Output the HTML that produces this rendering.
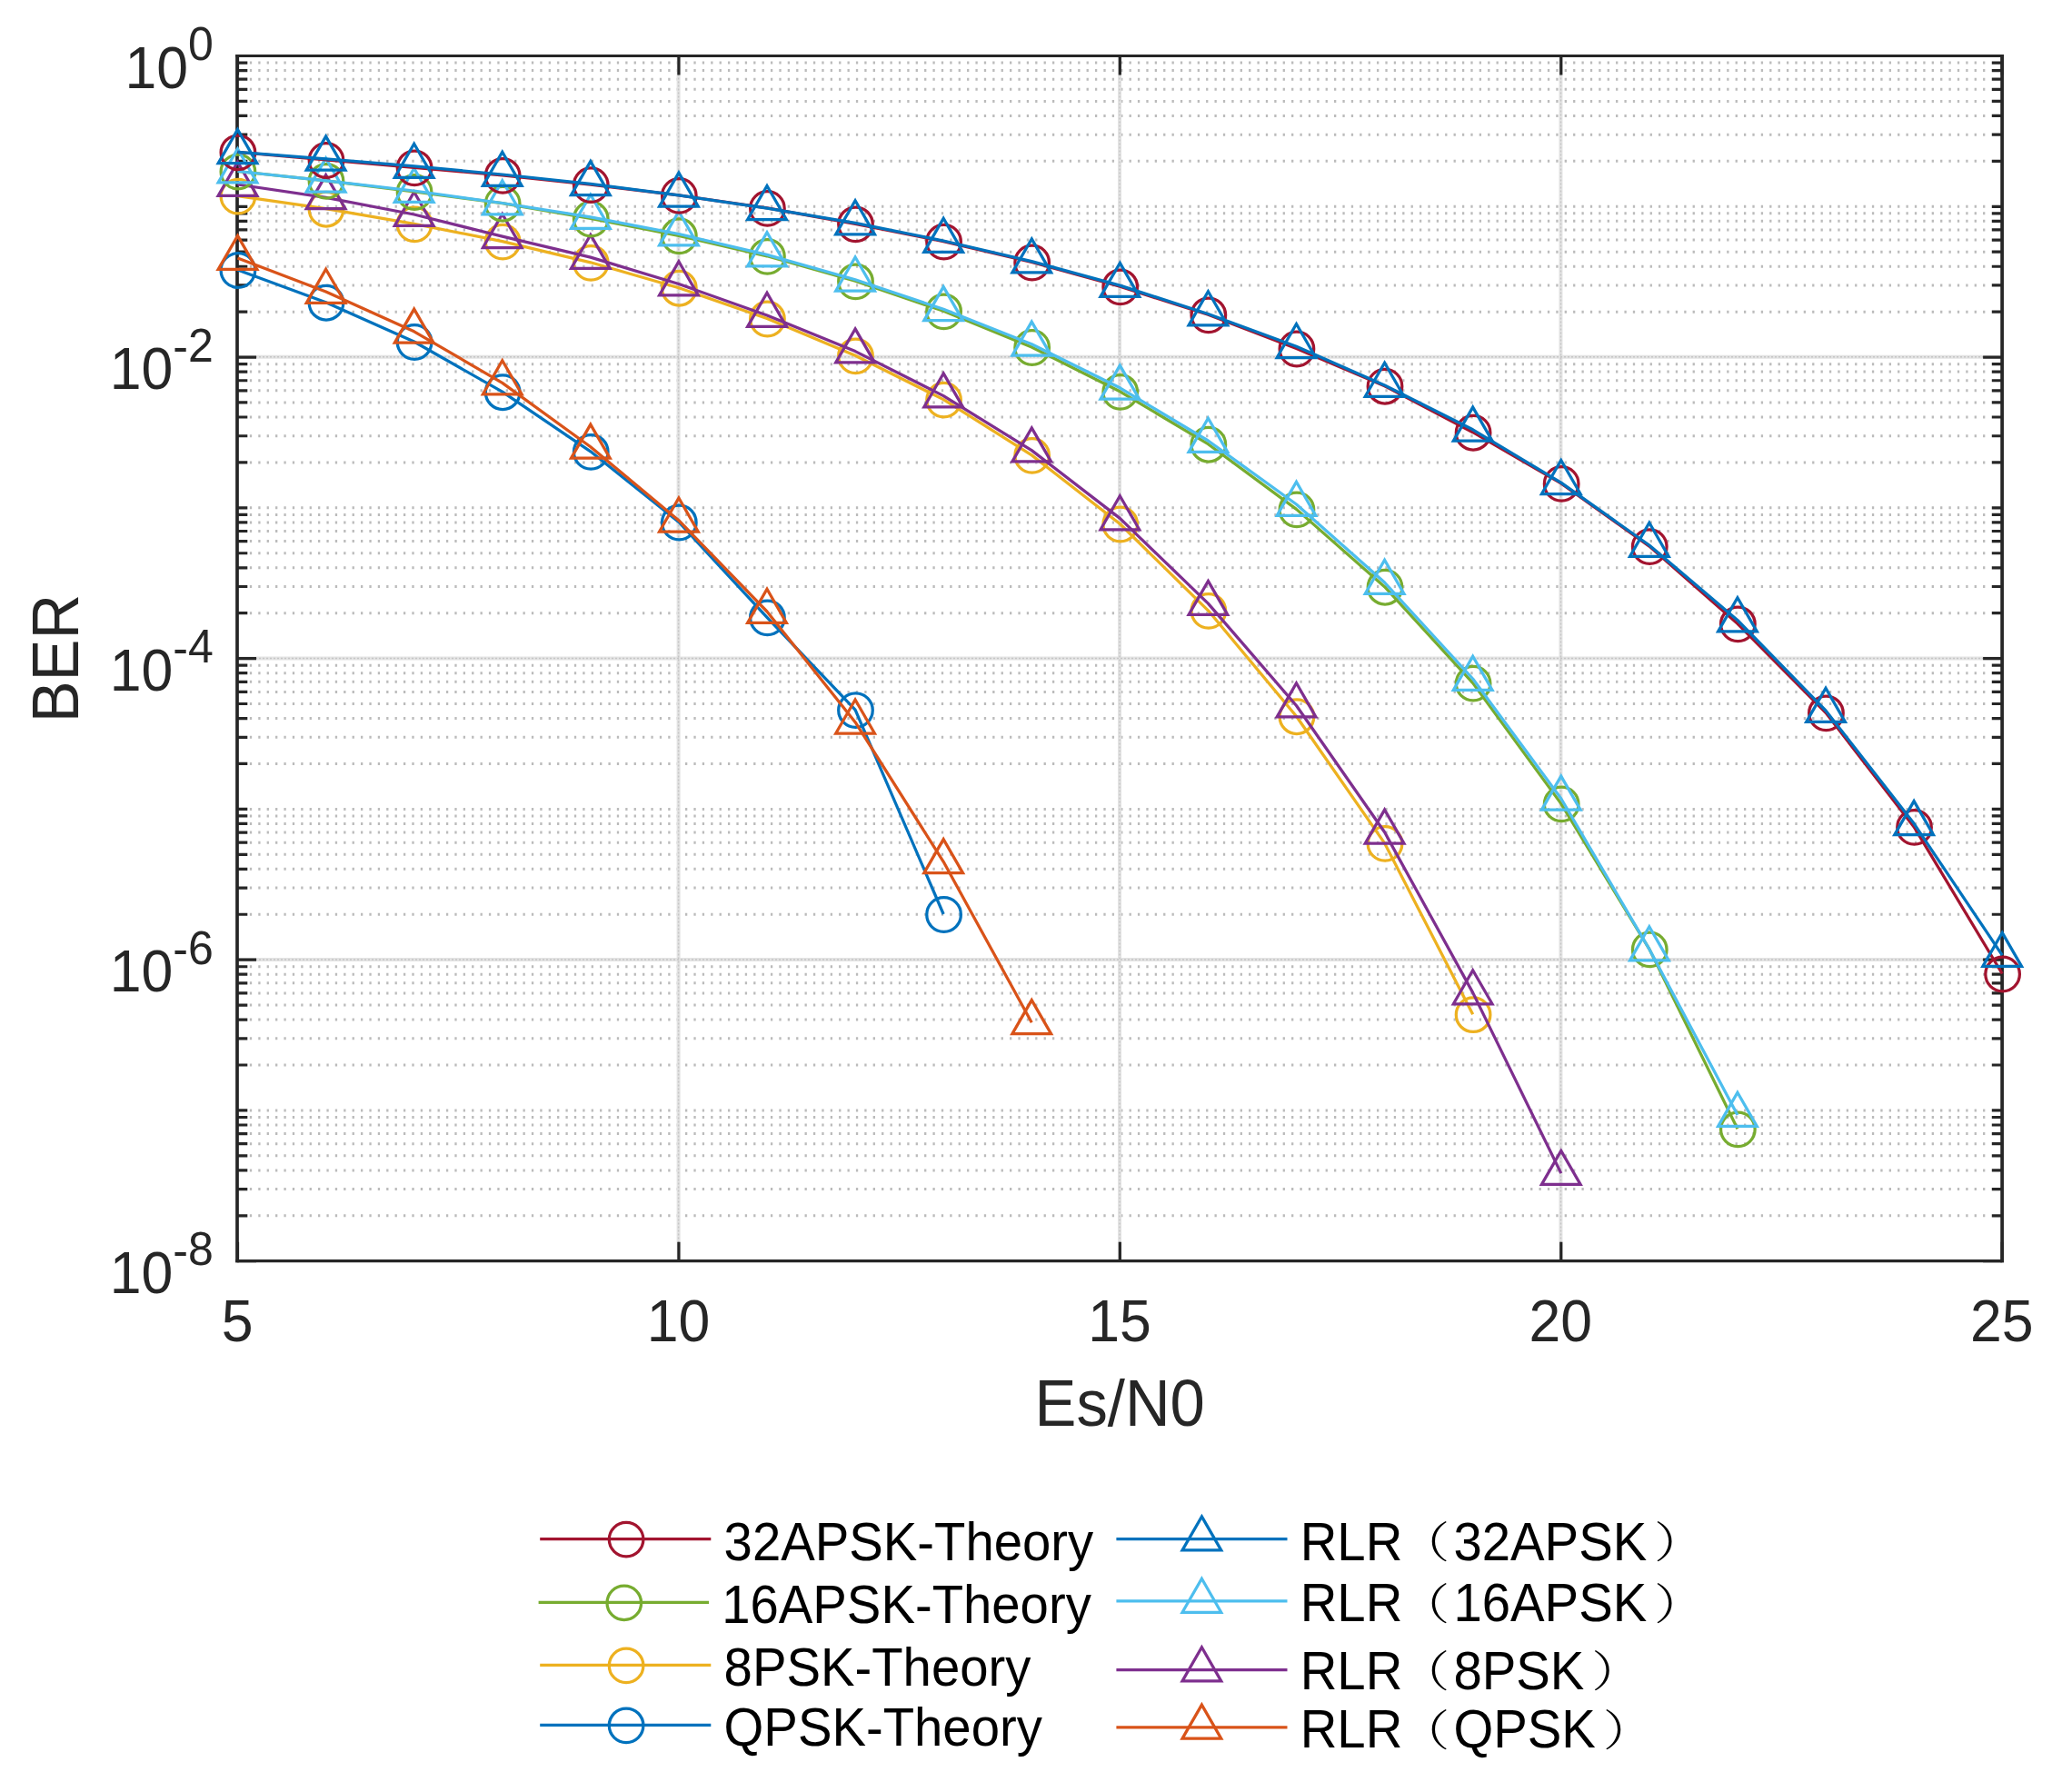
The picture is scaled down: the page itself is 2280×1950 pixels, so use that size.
<!DOCTYPE html>
<html lang="en"><head><meta charset="utf-8"><title>BER vs Es/N0</title>
<style>html,body{margin:0;padding:0;background:#fff}body{width:2280px;height:1950px;overflow:hidden}</style>
</head><body>
<svg width="2280" height="1950" viewBox="0 0 2280 1950" style="display:block">
<rect width="2280" height="1950" fill="#fff"/>
<g stroke="#bbbbbb" stroke-width="3" stroke-dasharray="2.3 7.095" fill="none">
<path d="M274.85 227.28H2186"/>
<path d="M274.85 177.37H2186"/>
<path d="M274.85 148.18H2186"/>
<path d="M274.85 127.47H2186"/>
<path d="M274.85 111.40H2186"/>
<path d="M274.85 98.28H2186"/>
<path d="M274.85 87.18H2186"/>
<path d="M274.85 77.57H2186"/>
<path d="M274.85 69.09H2186"/>
<path d="M274.85 343.15H2186"/>
<path d="M274.85 313.96H2186"/>
<path d="M274.85 293.24H2186"/>
<path d="M274.85 277.18H2186"/>
<path d="M274.85 264.05H2186"/>
<path d="M274.85 252.95H2186"/>
<path d="M274.85 243.34H2186"/>
<path d="M274.85 234.86H2186"/>
<path d="M274.85 558.83H2186"/>
<path d="M274.85 508.92H2186"/>
<path d="M274.85 479.73H2186"/>
<path d="M274.85 459.02H2186"/>
<path d="M274.85 442.95H2186"/>
<path d="M274.85 429.83H2186"/>
<path d="M274.85 418.73H2186"/>
<path d="M274.85 409.12H2186"/>
<path d="M274.85 400.64H2186"/>
<path d="M274.85 674.70H2186"/>
<path d="M274.85 645.51H2186"/>
<path d="M274.85 624.79H2186"/>
<path d="M274.85 608.73H2186"/>
<path d="M274.85 595.60H2186"/>
<path d="M274.85 584.50H2186"/>
<path d="M274.85 574.89H2186"/>
<path d="M274.85 566.41H2186"/>
<path d="M274.85 890.38H2186"/>
<path d="M274.85 840.47H2186"/>
<path d="M274.85 811.28H2186"/>
<path d="M274.85 790.57H2186"/>
<path d="M274.85 774.50H2186"/>
<path d="M274.85 761.38H2186"/>
<path d="M274.85 750.28H2186"/>
<path d="M274.85 740.67H2186"/>
<path d="M274.85 732.19H2186"/>
<path d="M274.85 1006.25H2186"/>
<path d="M274.85 977.06H2186"/>
<path d="M274.85 956.34H2186"/>
<path d="M274.85 940.28H2186"/>
<path d="M274.85 927.15H2186"/>
<path d="M274.85 916.05H2186"/>
<path d="M274.85 906.44H2186"/>
<path d="M274.85 897.96H2186"/>
<path d="M274.85 1221.92H2186"/>
<path d="M274.85 1172.02H2186"/>
<path d="M274.85 1142.83H2186"/>
<path d="M274.85 1122.12H2186"/>
<path d="M274.85 1106.05H2186"/>
<path d="M274.85 1092.93H2186"/>
<path d="M274.85 1081.83H2186"/>
<path d="M274.85 1072.22H2186"/>
<path d="M274.85 1063.74H2186"/>
<path d="M274.85 1337.80H2186"/>
<path d="M274.85 1308.61H2186"/>
<path d="M274.85 1287.89H2186"/>
<path d="M274.85 1271.83H2186"/>
<path d="M274.85 1258.70H2186"/>
<path d="M274.85 1247.60H2186"/>
<path d="M274.85 1237.99H2186"/>
<path d="M274.85 1229.51H2186"/>
</g>
<path d="M746.62 61.5V1387.7M1232.05 61.5V1387.7M1717.47 61.5V1387.7M261.0 392.85H2203.1M261.0 724.40H2203.1M261.0 1055.95H2203.1" stroke="#e3e3e3" stroke-width="4" fill="none"/>
<path d="M746.62 61.5V1387.7M1232.05 61.5V1387.7M1717.47 61.5V1387.7M261.0 392.85H2203.1M261.0 724.40H2203.1M261.0 1055.95H2203.1" stroke="#c6c6c6" stroke-width="1.5" stroke-dasharray="2 2" fill="none"/>
<g stroke="#262626" stroke-width="3.2" fill="none">
<path d="M261.50 1387.7v-21.0M261.50 61.5v21.0"/>
<path d="M746.92 1387.7v-21.0M746.92 61.5v21.0"/>
<path d="M1232.35 1387.7v-21.0M1232.35 61.5v21.0"/>
<path d="M1717.77 1387.7v-21.0M1717.77 61.5v21.0"/>
<path d="M2203.20 1387.7v-21.0M2203.20 61.5v21.0"/>
<path d="M261.0 61.50h21.0M2203.1 61.50h-21.0"/>
<path d="M261.0 393.05h21.0M2203.1 393.05h-21.0"/>
<path d="M261.0 724.60h21.0M2203.1 724.60h-21.0"/>
<path d="M261.0 1056.15h21.0M2203.1 1056.15h-21.0"/>
<path d="M261.0 1387.70h21.0M2203.1 1387.70h-21.0"/>
<path d="M261.0 227.28h11.3M2203.1 227.28h-11.3"/>
<path d="M261.0 177.37h11.3M2203.1 177.37h-11.3"/>
<path d="M261.0 148.18h11.3M2203.1 148.18h-11.3"/>
<path d="M261.0 127.47h11.3M2203.1 127.47h-11.3"/>
<path d="M261.0 111.40h11.3M2203.1 111.40h-11.3"/>
<path d="M261.0 98.28h11.3M2203.1 98.28h-11.3"/>
<path d="M261.0 87.18h11.3M2203.1 87.18h-11.3"/>
<path d="M261.0 77.57h11.3M2203.1 77.57h-11.3"/>
<path d="M261.0 69.09h11.3M2203.1 69.09h-11.3"/>
<path d="M261.0 343.15h11.3M2203.1 343.15h-11.3"/>
<path d="M261.0 313.96h11.3M2203.1 313.96h-11.3"/>
<path d="M261.0 293.24h11.3M2203.1 293.24h-11.3"/>
<path d="M261.0 277.18h11.3M2203.1 277.18h-11.3"/>
<path d="M261.0 264.05h11.3M2203.1 264.05h-11.3"/>
<path d="M261.0 252.95h11.3M2203.1 252.95h-11.3"/>
<path d="M261.0 243.34h11.3M2203.1 243.34h-11.3"/>
<path d="M261.0 234.86h11.3M2203.1 234.86h-11.3"/>
<path d="M261.0 558.83h11.3M2203.1 558.83h-11.3"/>
<path d="M261.0 508.92h11.3M2203.1 508.92h-11.3"/>
<path d="M261.0 479.73h11.3M2203.1 479.73h-11.3"/>
<path d="M261.0 459.02h11.3M2203.1 459.02h-11.3"/>
<path d="M261.0 442.95h11.3M2203.1 442.95h-11.3"/>
<path d="M261.0 429.83h11.3M2203.1 429.83h-11.3"/>
<path d="M261.0 418.73h11.3M2203.1 418.73h-11.3"/>
<path d="M261.0 409.12h11.3M2203.1 409.12h-11.3"/>
<path d="M261.0 400.64h11.3M2203.1 400.64h-11.3"/>
<path d="M261.0 674.70h11.3M2203.1 674.70h-11.3"/>
<path d="M261.0 645.51h11.3M2203.1 645.51h-11.3"/>
<path d="M261.0 624.79h11.3M2203.1 624.79h-11.3"/>
<path d="M261.0 608.73h11.3M2203.1 608.73h-11.3"/>
<path d="M261.0 595.60h11.3M2203.1 595.60h-11.3"/>
<path d="M261.0 584.50h11.3M2203.1 584.50h-11.3"/>
<path d="M261.0 574.89h11.3M2203.1 574.89h-11.3"/>
<path d="M261.0 566.41h11.3M2203.1 566.41h-11.3"/>
<path d="M261.0 890.38h11.3M2203.1 890.38h-11.3"/>
<path d="M261.0 840.47h11.3M2203.1 840.47h-11.3"/>
<path d="M261.0 811.28h11.3M2203.1 811.28h-11.3"/>
<path d="M261.0 790.57h11.3M2203.1 790.57h-11.3"/>
<path d="M261.0 774.50h11.3M2203.1 774.50h-11.3"/>
<path d="M261.0 761.38h11.3M2203.1 761.38h-11.3"/>
<path d="M261.0 750.28h11.3M2203.1 750.28h-11.3"/>
<path d="M261.0 740.67h11.3M2203.1 740.67h-11.3"/>
<path d="M261.0 732.19h11.3M2203.1 732.19h-11.3"/>
<path d="M261.0 1006.25h11.3M2203.1 1006.25h-11.3"/>
<path d="M261.0 977.06h11.3M2203.1 977.06h-11.3"/>
<path d="M261.0 956.34h11.3M2203.1 956.34h-11.3"/>
<path d="M261.0 940.28h11.3M2203.1 940.28h-11.3"/>
<path d="M261.0 927.15h11.3M2203.1 927.15h-11.3"/>
<path d="M261.0 916.05h11.3M2203.1 916.05h-11.3"/>
<path d="M261.0 906.44h11.3M2203.1 906.44h-11.3"/>
<path d="M261.0 897.96h11.3M2203.1 897.96h-11.3"/>
<path d="M261.0 1221.92h11.3M2203.1 1221.92h-11.3"/>
<path d="M261.0 1172.02h11.3M2203.1 1172.02h-11.3"/>
<path d="M261.0 1142.83h11.3M2203.1 1142.83h-11.3"/>
<path d="M261.0 1122.12h11.3M2203.1 1122.12h-11.3"/>
<path d="M261.0 1106.05h11.3M2203.1 1106.05h-11.3"/>
<path d="M261.0 1092.93h11.3M2203.1 1092.93h-11.3"/>
<path d="M261.0 1081.83h11.3M2203.1 1081.83h-11.3"/>
<path d="M261.0 1072.22h11.3M2203.1 1072.22h-11.3"/>
<path d="M261.0 1063.74h11.3M2203.1 1063.74h-11.3"/>
<path d="M261.0 1337.80h11.3M2203.1 1337.80h-11.3"/>
<path d="M261.0 1308.61h11.3M2203.1 1308.61h-11.3"/>
<path d="M261.0 1287.89h11.3M2203.1 1287.89h-11.3"/>
<path d="M261.0 1271.83h11.3M2203.1 1271.83h-11.3"/>
<path d="M261.0 1258.70h11.3M2203.1 1258.70h-11.3"/>
<path d="M261.0 1247.60h11.3M2203.1 1247.60h-11.3"/>
<path d="M261.0 1237.99h11.3M2203.1 1237.99h-11.3"/>
<path d="M261.0 1229.51h11.3M2203.1 1229.51h-11.3"/>
<path d="M261.0 59.9V1389.3M2203.1 59.9V1389.3" stroke-width="3.7"/>
<path d="M259.15 61.5H2204.95M259.15 1387.7H2204.95" stroke-width="3.2"/>
</g>
<g><polyline points="261.50,297.00 358.58,332.70 455.67,376.00 552.75,431.20 649.84,496.80 746.92,574.50 844.01,679.30 941.09,781.10 1038.18,1006.00" fill="none" stroke="#0072BD" stroke-width="3.25" stroke-linejoin="round"/>
<circle cx="261.90" cy="297.50" r="18.8" fill="none" stroke="#0072BD" stroke-width="3.25"/>
<circle cx="358.98" cy="333.20" r="18.8" fill="none" stroke="#0072BD" stroke-width="3.25"/>
<circle cx="456.07" cy="376.50" r="18.8" fill="none" stroke="#0072BD" stroke-width="3.25"/>
<circle cx="553.15" cy="431.70" r="18.8" fill="none" stroke="#0072BD" stroke-width="3.25"/>
<circle cx="650.24" cy="497.30" r="18.8" fill="none" stroke="#0072BD" stroke-width="3.25"/>
<circle cx="747.32" cy="575.00" r="18.8" fill="none" stroke="#0072BD" stroke-width="3.25"/>
<circle cx="844.41" cy="679.80" r="18.8" fill="none" stroke="#0072BD" stroke-width="3.25"/>
<circle cx="941.49" cy="781.60" r="18.8" fill="none" stroke="#0072BD" stroke-width="3.25"/>
<circle cx="1038.58" cy="1006.50" r="18.8" fill="none" stroke="#0072BD" stroke-width="3.25"/>
</g>
<g><polyline points="261.50,284.10 358.58,321.00 455.67,364.80 552.75,421.40 649.84,491.80 746.92,572.70 844.01,673.00 941.09,794.70 1038.18,948.30 1135.26,1125.30" fill="none" stroke="#D95319" stroke-width="3.25" stroke-linejoin="round"/>
<path d="M261.50 259.40L282.85 296.45L240.15 296.45Z" fill="none" stroke="#D95319" stroke-width="3.25" stroke-linejoin="miter" stroke-miterlimit="10"/>
<path d="M358.58 296.30L379.94 333.35L337.23 333.35Z" fill="none" stroke="#D95319" stroke-width="3.25" stroke-linejoin="miter" stroke-miterlimit="10"/>
<path d="M455.67 340.10L477.02 377.15L434.32 377.15Z" fill="none" stroke="#D95319" stroke-width="3.25" stroke-linejoin="miter" stroke-miterlimit="10"/>
<path d="M552.75 396.70L574.11 433.75L531.40 433.75Z" fill="none" stroke="#D95319" stroke-width="3.25" stroke-linejoin="miter" stroke-miterlimit="10"/>
<path d="M649.84 467.10L671.19 504.15L628.49 504.15Z" fill="none" stroke="#D95319" stroke-width="3.25" stroke-linejoin="miter" stroke-miterlimit="10"/>
<path d="M746.92 548.00L768.27 585.05L725.57 585.05Z" fill="none" stroke="#D95319" stroke-width="3.25" stroke-linejoin="miter" stroke-miterlimit="10"/>
<path d="M844.01 648.30L865.36 685.35L822.66 685.35Z" fill="none" stroke="#D95319" stroke-width="3.25" stroke-linejoin="miter" stroke-miterlimit="10"/>
<path d="M941.09 770.00L962.44 807.05L919.74 807.05Z" fill="none" stroke="#D95319" stroke-width="3.25" stroke-linejoin="miter" stroke-miterlimit="10"/>
<path d="M1038.18 923.60L1059.53 960.65L1016.83 960.65Z" fill="none" stroke="#D95319" stroke-width="3.25" stroke-linejoin="miter" stroke-miterlimit="10"/>
<path d="M1135.26 1100.60L1156.61 1137.65L1113.91 1137.65Z" fill="none" stroke="#D95319" stroke-width="3.25" stroke-linejoin="miter" stroke-miterlimit="10"/>
</g>
<g><polyline points="261.50,215.60 358.58,229.70 455.67,246.30 552.75,265.60 649.84,288.80 746.92,316.70 844.01,350.50 941.09,391.30 1038.18,439.60 1135.26,500.90 1232.35,576.50 1329.43,671.80 1426.52,788.20 1523.61,927.90 1620.69,1116.20" fill="none" stroke="#EDB120" stroke-width="3.25" stroke-linejoin="round"/>
<circle cx="261.90" cy="216.10" r="18.8" fill="none" stroke="#EDB120" stroke-width="3.25"/>
<circle cx="358.98" cy="230.20" r="18.8" fill="none" stroke="#EDB120" stroke-width="3.25"/>
<circle cx="456.07" cy="246.80" r="18.8" fill="none" stroke="#EDB120" stroke-width="3.25"/>
<circle cx="553.15" cy="266.10" r="18.8" fill="none" stroke="#EDB120" stroke-width="3.25"/>
<circle cx="650.24" cy="289.30" r="18.8" fill="none" stroke="#EDB120" stroke-width="3.25"/>
<circle cx="747.32" cy="317.20" r="18.8" fill="none" stroke="#EDB120" stroke-width="3.25"/>
<circle cx="844.41" cy="351.00" r="18.8" fill="none" stroke="#EDB120" stroke-width="3.25"/>
<circle cx="941.49" cy="391.80" r="18.8" fill="none" stroke="#EDB120" stroke-width="3.25"/>
<circle cx="1038.58" cy="440.10" r="18.8" fill="none" stroke="#EDB120" stroke-width="3.25"/>
<circle cx="1135.66" cy="501.40" r="18.8" fill="none" stroke="#EDB120" stroke-width="3.25"/>
<circle cx="1232.75" cy="577.00" r="18.8" fill="none" stroke="#EDB120" stroke-width="3.25"/>
<circle cx="1329.84" cy="672.30" r="18.8" fill="none" stroke="#EDB120" stroke-width="3.25"/>
<circle cx="1426.92" cy="788.70" r="18.8" fill="none" stroke="#EDB120" stroke-width="3.25"/>
<circle cx="1524.01" cy="928.40" r="18.8" fill="none" stroke="#EDB120" stroke-width="3.25"/>
<circle cx="1621.09" cy="1116.70" r="18.8" fill="none" stroke="#EDB120" stroke-width="3.25"/>
</g>
<g><polyline points="261.50,203.00 358.58,217.30 455.67,236.00 552.75,260.20 649.84,283.10 746.92,312.50 844.01,347.00 941.09,386.60 1038.18,435.60 1135.26,495.60 1232.35,570.40 1329.43,664.10 1426.52,776.50 1523.61,915.80 1620.69,1092.40 1717.77,1291.10" fill="none" stroke="#7E2F8E" stroke-width="3.25" stroke-linejoin="round"/>
<path d="M261.50 178.30L282.85 215.35L240.15 215.35Z" fill="none" stroke="#7E2F8E" stroke-width="3.25" stroke-linejoin="miter" stroke-miterlimit="10"/>
<path d="M358.58 192.60L379.94 229.65L337.23 229.65Z" fill="none" stroke="#7E2F8E" stroke-width="3.25" stroke-linejoin="miter" stroke-miterlimit="10"/>
<path d="M455.67 211.30L477.02 248.35L434.32 248.35Z" fill="none" stroke="#7E2F8E" stroke-width="3.25" stroke-linejoin="miter" stroke-miterlimit="10"/>
<path d="M552.75 235.50L574.11 272.55L531.40 272.55Z" fill="none" stroke="#7E2F8E" stroke-width="3.25" stroke-linejoin="miter" stroke-miterlimit="10"/>
<path d="M649.84 258.40L671.19 295.45L628.49 295.45Z" fill="none" stroke="#7E2F8E" stroke-width="3.25" stroke-linejoin="miter" stroke-miterlimit="10"/>
<path d="M746.92 287.80L768.27 324.85L725.57 324.85Z" fill="none" stroke="#7E2F8E" stroke-width="3.25" stroke-linejoin="miter" stroke-miterlimit="10"/>
<path d="M844.01 322.30L865.36 359.35L822.66 359.35Z" fill="none" stroke="#7E2F8E" stroke-width="3.25" stroke-linejoin="miter" stroke-miterlimit="10"/>
<path d="M941.09 361.90L962.44 398.95L919.74 398.95Z" fill="none" stroke="#7E2F8E" stroke-width="3.25" stroke-linejoin="miter" stroke-miterlimit="10"/>
<path d="M1038.18 410.90L1059.53 447.95L1016.83 447.95Z" fill="none" stroke="#7E2F8E" stroke-width="3.25" stroke-linejoin="miter" stroke-miterlimit="10"/>
<path d="M1135.26 470.90L1156.61 507.95L1113.91 507.95Z" fill="none" stroke="#7E2F8E" stroke-width="3.25" stroke-linejoin="miter" stroke-miterlimit="10"/>
<path d="M1232.35 545.70L1253.70 582.75L1211.00 582.75Z" fill="none" stroke="#7E2F8E" stroke-width="3.25" stroke-linejoin="miter" stroke-miterlimit="10"/>
<path d="M1329.43 639.40L1350.78 676.45L1308.09 676.45Z" fill="none" stroke="#7E2F8E" stroke-width="3.25" stroke-linejoin="miter" stroke-miterlimit="10"/>
<path d="M1426.52 751.80L1447.87 788.85L1405.17 788.85Z" fill="none" stroke="#7E2F8E" stroke-width="3.25" stroke-linejoin="miter" stroke-miterlimit="10"/>
<path d="M1523.61 891.10L1544.95 928.15L1502.26 928.15Z" fill="none" stroke="#7E2F8E" stroke-width="3.25" stroke-linejoin="miter" stroke-miterlimit="10"/>
<path d="M1620.69 1067.70L1642.04 1104.75L1599.34 1104.75Z" fill="none" stroke="#7E2F8E" stroke-width="3.25" stroke-linejoin="miter" stroke-miterlimit="10"/>
<path d="M1717.77 1266.40L1739.12 1303.45L1696.42 1303.45Z" fill="none" stroke="#7E2F8E" stroke-width="3.25" stroke-linejoin="miter" stroke-miterlimit="10"/>
</g>
<g><polyline points="261.50,188.50 358.58,198.80 455.67,211.00 552.75,223.70 649.84,240.50 746.92,259.30 844.01,281.80 941.09,309.30 1038.18,342.30 1135.26,382.00 1232.35,430.80 1329.43,488.70 1426.52,560.40 1523.61,645.70 1620.69,751.60 1717.77,884.40 1814.86,1044.40 1911.94,1242.30" fill="none" stroke="#77AC30" stroke-width="3.25" stroke-linejoin="round"/>
<circle cx="261.90" cy="189.00" r="18.8" fill="none" stroke="#77AC30" stroke-width="3.25"/>
<circle cx="358.98" cy="199.30" r="18.8" fill="none" stroke="#77AC30" stroke-width="3.25"/>
<circle cx="456.07" cy="211.50" r="18.8" fill="none" stroke="#77AC30" stroke-width="3.25"/>
<circle cx="553.15" cy="224.20" r="18.8" fill="none" stroke="#77AC30" stroke-width="3.25"/>
<circle cx="650.24" cy="241.00" r="18.8" fill="none" stroke="#77AC30" stroke-width="3.25"/>
<circle cx="747.32" cy="259.80" r="18.8" fill="none" stroke="#77AC30" stroke-width="3.25"/>
<circle cx="844.41" cy="282.30" r="18.8" fill="none" stroke="#77AC30" stroke-width="3.25"/>
<circle cx="941.49" cy="309.80" r="18.8" fill="none" stroke="#77AC30" stroke-width="3.25"/>
<circle cx="1038.58" cy="342.80" r="18.8" fill="none" stroke="#77AC30" stroke-width="3.25"/>
<circle cx="1135.66" cy="382.50" r="18.8" fill="none" stroke="#77AC30" stroke-width="3.25"/>
<circle cx="1232.75" cy="431.30" r="18.8" fill="none" stroke="#77AC30" stroke-width="3.25"/>
<circle cx="1329.84" cy="489.20" r="18.8" fill="none" stroke="#77AC30" stroke-width="3.25"/>
<circle cx="1426.92" cy="560.90" r="18.8" fill="none" stroke="#77AC30" stroke-width="3.25"/>
<circle cx="1524.01" cy="646.20" r="18.8" fill="none" stroke="#77AC30" stroke-width="3.25"/>
<circle cx="1621.09" cy="752.10" r="18.8" fill="none" stroke="#77AC30" stroke-width="3.25"/>
<circle cx="1718.17" cy="884.90" r="18.8" fill="none" stroke="#77AC30" stroke-width="3.25"/>
<circle cx="1815.26" cy="1044.90" r="18.8" fill="none" stroke="#77AC30" stroke-width="3.25"/>
<circle cx="1912.35" cy="1242.80" r="18.8" fill="none" stroke="#77AC30" stroke-width="3.25"/>
</g>
<g><polyline points="261.50,188.50 358.58,198.80 455.67,210.00 552.75,223.50 649.84,238.90 746.92,257.50 844.01,280.40 941.09,307.70 1038.18,340.30 1135.26,378.80 1232.35,426.80 1329.43,485.00 1426.52,555.00 1523.61,641.00 1620.69,747.00 1717.77,878.80 1814.86,1044.50 1911.94,1227.00" fill="none" stroke="#4DBEEE" stroke-width="3.25" stroke-linejoin="round"/>
<path d="M261.50 163.80L282.85 200.85L240.15 200.85Z" fill="none" stroke="#4DBEEE" stroke-width="3.25" stroke-linejoin="miter" stroke-miterlimit="10"/>
<path d="M358.58 174.10L379.94 211.15L337.23 211.15Z" fill="none" stroke="#4DBEEE" stroke-width="3.25" stroke-linejoin="miter" stroke-miterlimit="10"/>
<path d="M455.67 185.30L477.02 222.35L434.32 222.35Z" fill="none" stroke="#4DBEEE" stroke-width="3.25" stroke-linejoin="miter" stroke-miterlimit="10"/>
<path d="M552.75 198.80L574.11 235.85L531.40 235.85Z" fill="none" stroke="#4DBEEE" stroke-width="3.25" stroke-linejoin="miter" stroke-miterlimit="10"/>
<path d="M649.84 214.20L671.19 251.25L628.49 251.25Z" fill="none" stroke="#4DBEEE" stroke-width="3.25" stroke-linejoin="miter" stroke-miterlimit="10"/>
<path d="M746.92 232.80L768.27 269.85L725.57 269.85Z" fill="none" stroke="#4DBEEE" stroke-width="3.25" stroke-linejoin="miter" stroke-miterlimit="10"/>
<path d="M844.01 255.70L865.36 292.75L822.66 292.75Z" fill="none" stroke="#4DBEEE" stroke-width="3.25" stroke-linejoin="miter" stroke-miterlimit="10"/>
<path d="M941.09 283.00L962.44 320.05L919.74 320.05Z" fill="none" stroke="#4DBEEE" stroke-width="3.25" stroke-linejoin="miter" stroke-miterlimit="10"/>
<path d="M1038.18 315.60L1059.53 352.65L1016.83 352.65Z" fill="none" stroke="#4DBEEE" stroke-width="3.25" stroke-linejoin="miter" stroke-miterlimit="10"/>
<path d="M1135.26 354.10L1156.61 391.15L1113.91 391.15Z" fill="none" stroke="#4DBEEE" stroke-width="3.25" stroke-linejoin="miter" stroke-miterlimit="10"/>
<path d="M1232.35 402.10L1253.70 439.15L1211.00 439.15Z" fill="none" stroke="#4DBEEE" stroke-width="3.25" stroke-linejoin="miter" stroke-miterlimit="10"/>
<path d="M1329.43 460.30L1350.78 497.35L1308.09 497.35Z" fill="none" stroke="#4DBEEE" stroke-width="3.25" stroke-linejoin="miter" stroke-miterlimit="10"/>
<path d="M1426.52 530.30L1447.87 567.35L1405.17 567.35Z" fill="none" stroke="#4DBEEE" stroke-width="3.25" stroke-linejoin="miter" stroke-miterlimit="10"/>
<path d="M1523.61 616.30L1544.95 653.35L1502.26 653.35Z" fill="none" stroke="#4DBEEE" stroke-width="3.25" stroke-linejoin="miter" stroke-miterlimit="10"/>
<path d="M1620.69 722.30L1642.04 759.35L1599.34 759.35Z" fill="none" stroke="#4DBEEE" stroke-width="3.25" stroke-linejoin="miter" stroke-miterlimit="10"/>
<path d="M1717.77 854.10L1739.12 891.15L1696.42 891.15Z" fill="none" stroke="#4DBEEE" stroke-width="3.25" stroke-linejoin="miter" stroke-miterlimit="10"/>
<path d="M1814.86 1019.80L1836.21 1056.85L1793.51 1056.85Z" fill="none" stroke="#4DBEEE" stroke-width="3.25" stroke-linejoin="miter" stroke-miterlimit="10"/>
<path d="M1911.94 1202.30L1933.29 1239.35L1890.60 1239.35Z" fill="none" stroke="#4DBEEE" stroke-width="3.25" stroke-linejoin="miter" stroke-miterlimit="10"/>
</g>
<g><polyline points="261.50,167.30 358.58,176.00 455.67,184.30 552.75,192.80 649.84,203.10 746.92,214.90 844.01,228.90 941.09,246.30 1038.18,265.60 1135.26,288.50 1232.35,315.30 1329.43,346.30 1426.52,383.50 1523.61,424.70 1620.69,475.70 1717.77,531.90 1814.86,601.10 1911.94,686.30 2009.03,784.30 2106.11,909.90 2203.20,1071.50" fill="none" stroke="#A2142F" stroke-width="3.25" stroke-linejoin="round"/>
<circle cx="261.90" cy="167.80" r="18.8" fill="none" stroke="#A2142F" stroke-width="3.25"/>
<circle cx="358.98" cy="176.50" r="18.8" fill="none" stroke="#A2142F" stroke-width="3.25"/>
<circle cx="456.07" cy="184.80" r="18.8" fill="none" stroke="#A2142F" stroke-width="3.25"/>
<circle cx="553.15" cy="193.30" r="18.8" fill="none" stroke="#A2142F" stroke-width="3.25"/>
<circle cx="650.24" cy="203.60" r="18.8" fill="none" stroke="#A2142F" stroke-width="3.25"/>
<circle cx="747.32" cy="215.40" r="18.8" fill="none" stroke="#A2142F" stroke-width="3.25"/>
<circle cx="844.41" cy="229.40" r="18.8" fill="none" stroke="#A2142F" stroke-width="3.25"/>
<circle cx="941.49" cy="246.80" r="18.8" fill="none" stroke="#A2142F" stroke-width="3.25"/>
<circle cx="1038.58" cy="266.10" r="18.8" fill="none" stroke="#A2142F" stroke-width="3.25"/>
<circle cx="1135.66" cy="289.00" r="18.8" fill="none" stroke="#A2142F" stroke-width="3.25"/>
<circle cx="1232.75" cy="315.80" r="18.8" fill="none" stroke="#A2142F" stroke-width="3.25"/>
<circle cx="1329.84" cy="346.80" r="18.8" fill="none" stroke="#A2142F" stroke-width="3.25"/>
<circle cx="1426.92" cy="384.00" r="18.8" fill="none" stroke="#A2142F" stroke-width="3.25"/>
<circle cx="1524.01" cy="425.20" r="18.8" fill="none" stroke="#A2142F" stroke-width="3.25"/>
<circle cx="1621.09" cy="476.20" r="18.8" fill="none" stroke="#A2142F" stroke-width="3.25"/>
<circle cx="1718.17" cy="532.40" r="18.8" fill="none" stroke="#A2142F" stroke-width="3.25"/>
<circle cx="1815.26" cy="601.60" r="18.8" fill="none" stroke="#A2142F" stroke-width="3.25"/>
<circle cx="1912.35" cy="686.80" r="18.8" fill="none" stroke="#A2142F" stroke-width="3.25"/>
<circle cx="2009.43" cy="784.80" r="18.8" fill="none" stroke="#A2142F" stroke-width="3.25"/>
<circle cx="2106.51" cy="910.40" r="18.8" fill="none" stroke="#A2142F" stroke-width="3.25"/>
<circle cx="2203.60" cy="1072.00" r="18.8" fill="none" stroke="#A2142F" stroke-width="3.25"/>
</g>
<g><polyline points="261.50,167.30 358.58,174.80 455.67,182.90 552.75,192.00 649.84,202.30 746.92,214.80 844.01,229.20 941.09,245.40 1038.18,265.00 1135.26,287.60 1232.35,314.10 1329.43,345.50 1426.52,381.20 1523.61,423.90 1620.69,472.80 1717.77,531.20 1814.86,600.00 1911.94,682.50 2009.03,782.00 2106.11,906.30 2203.20,1051.10" fill="none" stroke="#0072BD" stroke-width="3.25" stroke-linejoin="round"/>
<path d="M261.50 142.60L282.85 179.65L240.15 179.65Z" fill="none" stroke="#0072BD" stroke-width="3.25" stroke-linejoin="miter" stroke-miterlimit="10"/>
<path d="M358.58 150.10L379.94 187.15L337.23 187.15Z" fill="none" stroke="#0072BD" stroke-width="3.25" stroke-linejoin="miter" stroke-miterlimit="10"/>
<path d="M455.67 158.20L477.02 195.25L434.32 195.25Z" fill="none" stroke="#0072BD" stroke-width="3.25" stroke-linejoin="miter" stroke-miterlimit="10"/>
<path d="M552.75 167.30L574.11 204.35L531.40 204.35Z" fill="none" stroke="#0072BD" stroke-width="3.25" stroke-linejoin="miter" stroke-miterlimit="10"/>
<path d="M649.84 177.60L671.19 214.65L628.49 214.65Z" fill="none" stroke="#0072BD" stroke-width="3.25" stroke-linejoin="miter" stroke-miterlimit="10"/>
<path d="M746.92 190.10L768.27 227.15L725.57 227.15Z" fill="none" stroke="#0072BD" stroke-width="3.25" stroke-linejoin="miter" stroke-miterlimit="10"/>
<path d="M844.01 204.50L865.36 241.55L822.66 241.55Z" fill="none" stroke="#0072BD" stroke-width="3.25" stroke-linejoin="miter" stroke-miterlimit="10"/>
<path d="M941.09 220.70L962.44 257.75L919.74 257.75Z" fill="none" stroke="#0072BD" stroke-width="3.25" stroke-linejoin="miter" stroke-miterlimit="10"/>
<path d="M1038.18 240.30L1059.53 277.35L1016.83 277.35Z" fill="none" stroke="#0072BD" stroke-width="3.25" stroke-linejoin="miter" stroke-miterlimit="10"/>
<path d="M1135.26 262.90L1156.61 299.95L1113.91 299.95Z" fill="none" stroke="#0072BD" stroke-width="3.25" stroke-linejoin="miter" stroke-miterlimit="10"/>
<path d="M1232.35 289.40L1253.70 326.45L1211.00 326.45Z" fill="none" stroke="#0072BD" stroke-width="3.25" stroke-linejoin="miter" stroke-miterlimit="10"/>
<path d="M1329.43 320.80L1350.78 357.85L1308.09 357.85Z" fill="none" stroke="#0072BD" stroke-width="3.25" stroke-linejoin="miter" stroke-miterlimit="10"/>
<path d="M1426.52 356.50L1447.87 393.55L1405.17 393.55Z" fill="none" stroke="#0072BD" stroke-width="3.25" stroke-linejoin="miter" stroke-miterlimit="10"/>
<path d="M1523.61 399.20L1544.95 436.25L1502.26 436.25Z" fill="none" stroke="#0072BD" stroke-width="3.25" stroke-linejoin="miter" stroke-miterlimit="10"/>
<path d="M1620.69 448.10L1642.04 485.15L1599.34 485.15Z" fill="none" stroke="#0072BD" stroke-width="3.25" stroke-linejoin="miter" stroke-miterlimit="10"/>
<path d="M1717.77 506.50L1739.12 543.55L1696.42 543.55Z" fill="none" stroke="#0072BD" stroke-width="3.25" stroke-linejoin="miter" stroke-miterlimit="10"/>
<path d="M1814.86 575.30L1836.21 612.35L1793.51 612.35Z" fill="none" stroke="#0072BD" stroke-width="3.25" stroke-linejoin="miter" stroke-miterlimit="10"/>
<path d="M1911.94 657.80L1933.29 694.85L1890.60 694.85Z" fill="none" stroke="#0072BD" stroke-width="3.25" stroke-linejoin="miter" stroke-miterlimit="10"/>
<path d="M2009.03 757.30L2030.38 794.35L1987.68 794.35Z" fill="none" stroke="#0072BD" stroke-width="3.25" stroke-linejoin="miter" stroke-miterlimit="10"/>
<path d="M2106.11 881.60L2127.46 918.65L2084.76 918.65Z" fill="none" stroke="#0072BD" stroke-width="3.25" stroke-linejoin="miter" stroke-miterlimit="10"/>
<path d="M2203.20 1026.40L2224.55 1063.45L2181.85 1063.45Z" fill="none" stroke="#0072BD" stroke-width="3.25" stroke-linejoin="miter" stroke-miterlimit="10"/>
</g>
<text transform="translate(261.10 1476.00) scale(0.9615 1)" font-family="Liberation Sans, Arial, sans-serif" font-size="65.03" fill="#262626" text-anchor="middle">5</text>
<text transform="translate(746.52 1476.00) scale(0.9615 1)" font-family="Liberation Sans, Arial, sans-serif" font-size="65.03" fill="#262626" text-anchor="middle">10</text>
<text transform="translate(1231.95 1476.00) scale(0.9615 1)" font-family="Liberation Sans, Arial, sans-serif" font-size="65.03" fill="#262626" text-anchor="middle">15</text>
<text transform="translate(1717.37 1476.00) scale(0.9615 1)" font-family="Liberation Sans, Arial, sans-serif" font-size="65.03" fill="#262626" text-anchor="middle">20</text>
<text transform="translate(2202.80 1476.00) scale(0.9615 1)" font-family="Liberation Sans, Arial, sans-serif" font-size="65.03" fill="#262626" text-anchor="middle">25</text>
<text transform="translate(234.80 96.80) scale(0.9615 1)" font-family="Liberation Sans, Arial, sans-serif" font-size="65.03" fill="#262626" text-anchor="end">10<tspan font-size="52.02" dy="-30.7">0</tspan></text>
<text transform="translate(234.80 428.35) scale(0.9615 1)" font-family="Liberation Sans, Arial, sans-serif" font-size="65.03" fill="#262626" text-anchor="end">10<tspan font-size="52.02" dy="-29.2">-</tspan><tspan font-size="52.02" dy="-1.5">2</tspan></text>
<text transform="translate(234.80 759.90) scale(0.9615 1)" font-family="Liberation Sans, Arial, sans-serif" font-size="65.03" fill="#262626" text-anchor="end">10<tspan font-size="52.02" dy="-29.2">-</tspan><tspan font-size="52.02" dy="-1.5">4</tspan></text>
<text transform="translate(234.80 1091.45) scale(0.9615 1)" font-family="Liberation Sans, Arial, sans-serif" font-size="65.03" fill="#262626" text-anchor="end">10<tspan font-size="52.02" dy="-29.2">-</tspan><tspan font-size="52.02" dy="-1.5">6</tspan></text>
<text transform="translate(234.80 1423.00) scale(0.9615 1)" font-family="Liberation Sans, Arial, sans-serif" font-size="65.03" fill="#262626" text-anchor="end">10<tspan font-size="52.02" dy="-29.2">-</tspan><tspan font-size="52.02" dy="-1.5">8</tspan></text>
<text transform="translate(1232.20 1568.90) scale(0.9615 1)" font-family="Liberation Sans, Arial, sans-serif" font-size="71.53" fill="#262626" text-anchor="middle">Es/N0</text>
<text transform="translate(86.00 724.60) rotate(-90) scale(0.9615 1)" font-family="Liberation Sans, Arial, sans-serif" font-size="71.53" fill="#262626" text-anchor="middle">BER</text>
<path d="M594.2 1693.6H782.3" stroke="#A2142F" stroke-width="3.25"/>
<circle cx="689.10" cy="1694.10" r="18.8" fill="none" stroke="#A2142F" stroke-width="3.25"/>
<text transform="translate(796.60 1716.50) scale(0.9615 1)" font-family="Liberation Sans, Arial, sans-serif" font-size="58.53" fill="#000" text-anchor="start">32APSK-Theory</text>
<path d="M592.6 1763.4H780.1" stroke="#77AC30" stroke-width="3.25"/>
<circle cx="686.80" cy="1763.90" r="18.8" fill="none" stroke="#77AC30" stroke-width="3.25"/>
<text transform="translate(794.20 1785.80) scale(0.9615 1)" font-family="Liberation Sans, Arial, sans-serif" font-size="58.53" fill="#000" text-anchor="start">16APSK-Theory</text>
<path d="M594.2 1832.4H782.3" stroke="#EDB120" stroke-width="3.25"/>
<circle cx="689.10" cy="1832.90" r="18.8" fill="none" stroke="#EDB120" stroke-width="3.25"/>
<text transform="translate(796.60 1855.10) scale(0.9615 1)" font-family="Liberation Sans, Arial, sans-serif" font-size="58.53" fill="#000" text-anchor="start">8PSK-Theory</text>
<path d="M594.2 1898.3H782.3" stroke="#0072BD" stroke-width="3.25"/>
<circle cx="689.10" cy="1898.80" r="18.8" fill="none" stroke="#0072BD" stroke-width="3.25"/>
<text transform="translate(796.60 1920.60) scale(0.9615 1)" font-family="Liberation Sans, Arial, sans-serif" font-size="58.53" fill="#000" text-anchor="start">QPSK-Theory</text>
<path d="M1228.4 1693.6H1416.5" stroke="#0072BD" stroke-width="3.25"/>
<path d="M1322.40 1668.90L1343.75 1705.95L1301.05 1705.95Z" fill="none" stroke="#0072BD" stroke-width="3.25" stroke-linejoin="miter" stroke-miterlimit="10"/>
<g><text transform="translate(1430.70 1716.50) scale(0.9615 1)" font-family="Liberation Sans, Arial, sans-serif" font-size="58.53" fill="#000" text-anchor="start">RLR</text><text transform="translate(1538.90 1713.80) scale(0.9615 0.81)" font-family="Noto Serif CJK SC, Noto Sans CJK SC, serif" font-weight="300" font-size="58.53" fill="#000">（</text><text transform="translate(1599.50 1716.50) scale(0.9615 1)" font-family="Liberation Sans, Arial, sans-serif" font-size="58.53" fill="#000" text-anchor="start">32APSK</text><text transform="translate(1820.03 1713.80) scale(0.9615 0.81)" font-family="Noto Serif CJK SC, Noto Sans CJK SC, serif" font-weight="300" font-size="58.53" fill="#000">）</text></g>
<path d="M1228.4 1761.9H1416.5" stroke="#4DBEEE" stroke-width="3.25"/>
<path d="M1322.40 1737.20L1343.75 1774.25L1301.05 1774.25Z" fill="none" stroke="#4DBEEE" stroke-width="3.25" stroke-linejoin="miter" stroke-miterlimit="10"/>
<g><text transform="translate(1430.70 1784.20) scale(0.9615 1)" font-family="Liberation Sans, Arial, sans-serif" font-size="58.53" fill="#000" text-anchor="start">RLR</text><text transform="translate(1538.90 1781.50) scale(0.9615 0.81)" font-family="Noto Serif CJK SC, Noto Sans CJK SC, serif" font-weight="300" font-size="58.53" fill="#000">（</text><text transform="translate(1599.50 1784.20) scale(0.9615 1)" font-family="Liberation Sans, Arial, sans-serif" font-size="58.53" fill="#000" text-anchor="start">16APSK</text><text transform="translate(1820.03 1781.50) scale(0.9615 0.81)" font-family="Noto Serif CJK SC, Noto Sans CJK SC, serif" font-weight="300" font-size="58.53" fill="#000">）</text></g>
<path d="M1228.4 1837.5H1416.5" stroke="#7E2F8E" stroke-width="3.25"/>
<path d="M1322.40 1812.80L1343.75 1849.85L1301.05 1849.85Z" fill="none" stroke="#7E2F8E" stroke-width="3.25" stroke-linejoin="miter" stroke-miterlimit="10"/>
<g><text transform="translate(1430.70 1858.80) scale(0.9615 1)" font-family="Liberation Sans, Arial, sans-serif" font-size="58.53" fill="#000" text-anchor="start">RLR</text><text transform="translate(1538.90 1856.10) scale(0.9615 0.81)" font-family="Noto Serif CJK SC, Noto Sans CJK SC, serif" font-weight="300" font-size="58.53" fill="#000">（</text><text transform="translate(1599.50 1858.80) scale(0.9615 1)" font-family="Liberation Sans, Arial, sans-serif" font-size="58.53" fill="#000" text-anchor="start">8PSK</text><text transform="translate(1751.23 1856.10) scale(0.9615 0.81)" font-family="Noto Serif CJK SC, Noto Sans CJK SC, serif" font-weight="300" font-size="58.53" fill="#000">）</text></g>
<path d="M1228.4 1900.8H1416.5" stroke="#D95319" stroke-width="3.25"/>
<path d="M1322.40 1876.10L1343.75 1913.15L1301.05 1913.15Z" fill="none" stroke="#D95319" stroke-width="3.25" stroke-linejoin="miter" stroke-miterlimit="10"/>
<g><text transform="translate(1430.70 1923.30) scale(0.9615 1)" font-family="Liberation Sans, Arial, sans-serif" font-size="58.53" fill="#000" text-anchor="start">RLR</text><text transform="translate(1538.90 1920.60) scale(0.9615 0.81)" font-family="Noto Serif CJK SC, Noto Sans CJK SC, serif" font-weight="300" font-size="58.53" fill="#000">（</text><text transform="translate(1599.50 1923.30) scale(0.9615 1)" font-family="Liberation Sans, Arial, sans-serif" font-size="58.53" fill="#000" text-anchor="start">QPSK</text><text transform="translate(1763.72 1920.60) scale(0.9615 0.81)" font-family="Noto Serif CJK SC, Noto Sans CJK SC, serif" font-weight="300" font-size="58.53" fill="#000">）</text></g>
</svg>
</body></html>
